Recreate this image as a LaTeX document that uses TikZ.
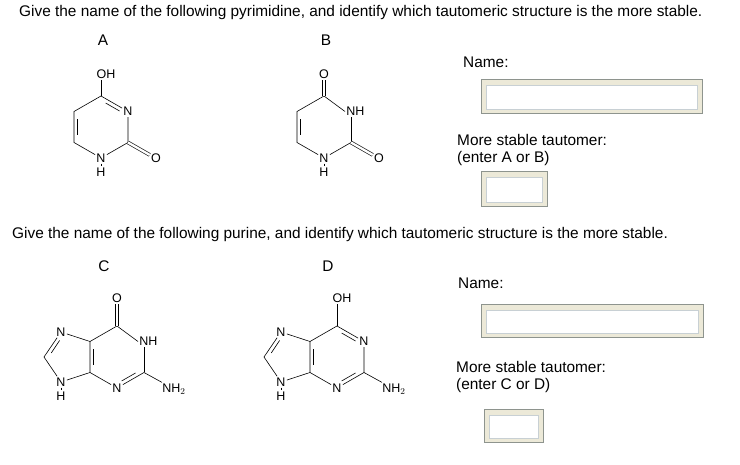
\documentclass[tikz,border=0pt]{standalone}
\usepackage{fontspec}
\setmainfont{Liberation Sans}
\usetikzlibrary{calc}
\definecolor{boxout}{HTML}{8E948E}
\definecolor{boxfill}{HTML}{ECE9D8}
\definecolor{boxin}{HTML}{C8D0D4}
\tikzset{
  atom/.style={inner sep=1.2pt,font=\fontsize{12.5}{12.5}\selectfont},
  lbl/.style={inner sep=0pt,font=\fontsize{15.4}{17}\selectfont},
  bond/.style={line width=0.6pt},
  dbl/.style={line width=0.6pt,double,double distance=2.4pt},
  outbox/.style={draw=boxout,fill=boxfill,line width=1pt},
  inbox/.style={draw=boxin,fill=white,line width=0.8pt}
}
\newcommand\inbond[3]{\draw[bond] ($($(#1)!0.2!(#2)$)!4pt!(#3)$) -- ($($(#2)!0.2!(#1)$)!4pt!(#3)$);}
\begin{document}
\begin{tikzpicture}[x=1pt,y=-1pt]
\useasboundingbox (0,0) rectangle (740,465);
% titles
\node[lbl,anchor=west] (t1) at (19,13) {Give the name of the following pyrimidine, and identify which tautomeric structure is the more stable.};
\node[lbl] (la) at (103,40) {A};
\node[lbl] (lb) at (326,40) {B};
\node[lbl,anchor=west] (t2) at (12,235) {Give the name of the following purine, and identify which tautomeric structure is the more stable.};
\node[lbl] (lc) at (104,266) {C};
\node[lbl] (ld) at (328,266) {D};
% ---- A ----
\coordinate (aC) at (101,127);
\coordinate (aC4) at (101,96); \node[atom] (aN3) at (128,111.5) {N};
\coordinate (aC2) at (128,142.5); \node[atom] (aN1) at (101,158) {N};
\coordinate (aC6) at (74,142.5); \coordinate (aC5) at (74,111.5);
\node[atom] (aOH) at (106,74) {OH}; \node[atom] (aO2) at (156,158.5) {O};
\node[atom] (aH) at (101,172) {H};
\draw[bond] (aC4)--(aN3)--(aC2)--(aN1)--(aC6)--(aC5)--(aC4);
\draw[bond] (aC4)--(aC4|-aOH.south);
\draw[bond] (aN1)--(aH);
\draw[dbl] (aC2)--(aO2);
\inbond{aC4}{aN3}{aC} \inbond{aC5}{aC6}{aC}
% ---- B ----
\coordinate (bC) at (324,127);
\coordinate (bC4) at (324,96); \node[atom,anchor=west] (bN3) at (345,111.5) {NH};
\coordinate (bN3p) at (351,111.5);
\coordinate (bC2) at (351,142.5); \node[atom] (bN1) at (324,158) {N};
\coordinate (bC6) at (297,142.5); \coordinate (bC5) at (297,111.5);
\node[atom] (bO4) at (324,74) {O}; \node[atom] (bO2) at (379,158.5) {O};
\node[atom] (bH) at (324,172) {H};
\draw[bond] (bC4)--(bN3.west|-bN3p);
\draw[bond] (bC2)--(bN3.south-|bC2);
\draw[bond] (bC2)--(bN1)--(bC6)--(bC5)--(bC4);
\draw[bond] (bN1)--(bH);
\draw[dbl] (bC4)--(bO4);
\draw[dbl] (bC2)--(bO2);
\inbond{bC5}{bC6}{bC}
% ---- C ----
\coordinate (cC) at (117,357); \coordinate (cP) at (69,357);
\coordinate (cC6) at (117,326); \node[atom,anchor=west] (cN1) at (138,341.5) {NH};
\coordinate (cN1p) at (144,341.5);
\coordinate (cC2) at (144,372.5); \node[atom] (cN3) at (117,388) {N};
\coordinate (cC4) at (90,372.5); \coordinate (cC5) at (90,341.5);
\node[atom] (cN7) at (61,332) {N}; \coordinate (cC8) at (44,357);
\node[atom] (cN9) at (61,382) {N}; \node[atom] (cH) at (61,396) {H};
\node[atom] (cO) at (117,298) {O};
\node[atom,anchor=west] (cNH2) at (161,389) {NH$_2$};
\draw[bond] (cC6)--(cN1.west|-cN1p);
\draw[bond] (cC2)--(cN1.south-|cC2);
\draw[bond] (cC2)--(cN3)--(cC4)--(cC5)--(cC6);
\draw[bond] (cC5)--(cN7)--(cC8)--(cN9)--(cC4);
\draw[bond] (cN9)--(cH);
\draw[bond] (cC2)--(cNH2);
\draw[dbl] (cC6)--(cO);
\inbond{cC5}{cC4}{cC} \inbond{cC2}{cN3}{cC} \inbond{cN7}{cC8}{cP}
% ---- D ----
\coordinate (dC) at (337,357); \coordinate (dP) at (289,357);
\coordinate (dC6) at (337,326); \node[atom] (dN1) at (364,341.5) {N};
\coordinate (dC2) at (364,372.5); \node[atom] (dN3) at (337,388) {N};
\coordinate (dC4) at (310,372.5); \coordinate (dC5) at (310,341.5);
\node[atom] (dN7) at (281,332) {N}; \coordinate (dC8) at (264,357);
\node[atom] (dN9) at (281,382) {N}; \node[atom] (dH) at (281,396) {H};
\node[atom] (dOH) at (342,298) {OH};
\node[atom,anchor=west] (dNH2) at (381,389) {NH$_2$};
\draw[bond] (dC6)--(dN1)--(dC2)--(dN3)--(dC4)--(dC5)--(dC6);
\draw[bond] (dC5)--(dN7)--(dC8)--(dN9)--(dC4);
\draw[bond] (dN9)--(dH);
\draw[bond] (dC2)--(dNH2);
\draw[bond] (dC6)--(dC6|-dOH.south);
\inbond{dC6}{dN1}{dC} \inbond{dC5}{dC4}{dC} \inbond{dC2}{dN3}{dC} \inbond{dN7}{dC8}{dP}
% ---- right panels ----
\node[lbl,anchor=west] (n1) at (463,62) {Name:};
\draw[outbox] (481,80) rectangle (702,114);
\draw[inbox] (486,85) rectangle (697,109);
\node[lbl,anchor=north west,align=left] (m1) at (457,134) {More stable tautomer:\\ (enter A or B)};
\draw[outbox] (481,172) rectangle (547,207);
\draw[inbox] (486,177) rectangle (542,202);
\node[lbl,anchor=west] (n2) at (458,283) {Name:};
\draw[outbox] (481,305) rectangle (703,338);
\draw[inbox] (486,310) rectangle (698,333);
\node[lbl,anchor=north west,align=left] (m2) at (456,361) {More stable tautomer:\\(enter C or D)};
\draw[outbox] (484,410) rectangle (543,443);
\draw[inbox] (489,415) rectangle (538,438);
\end{tikzpicture}
\end{document}
